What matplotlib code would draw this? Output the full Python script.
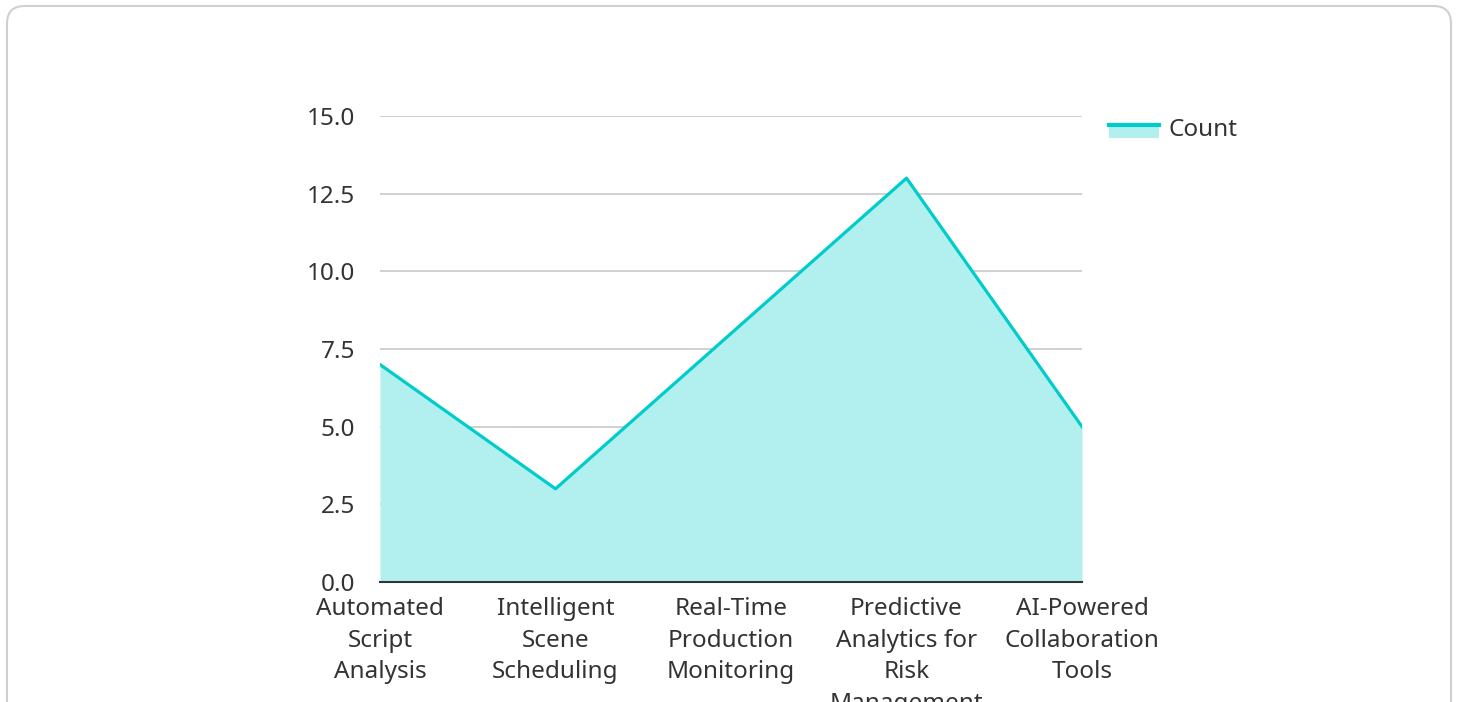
import textwrap

import matplotlib
matplotlib.use("Agg")
import matplotlib.pyplot as plt
from matplotlib.patches import FancyBboxPatch, Rectangle
from matplotlib.lines import Line2D
from matplotlib.legend_handler import HandlerBase

plt.rcParams['font.family'] = ['Noto Sans', 'DejaVu Sans']

# data
categories = [
    "Automated Script Analysis",
    "Intelligent Scene Scheduling",
    "Real-Time Production Monitoring",
    "Predictive Analytics for Risk Management",
    "AI-Powered Collaboration Tools",
]
counts = [7, 3, 8, 13, 5]
y_ticks = [0.0, 2.5, 5.0, 7.5, 10.0, 12.5, 15.0]
series_name = "Count"

LINE = "#00cccc"
FILL = "#b2efef"
TEXT = "#333333"
FS = 17.5


class AreaHandler(HandlerBase):
    """Legend key: filled box with the line on its top edge."""
    def create_artists(self, legend, orig_handle, xdescent, ydescent,
                       width, height, fontsize, trans):
        top = -ydescent + height * 0.62
        bot = -ydescent - height * 0.12
        r = Rectangle((-xdescent, bot), width, top - bot,
                      facecolor=FILL, edgecolor="none", transform=trans)
        l = Line2D([-xdescent, -xdescent + width], [top, top], color=LINE, lw=3,
                   transform=trans)
        return [r, l]


fig = plt.figure(figsize=(14.58, 7.02), dpi=100)

# rounded card border
card = FancyBboxPatch((7 / 1458, -20 / 702), 1444 / 1458, 716 / 702,
                      boxstyle="round,pad=0,rounding_size=0.012",
                      transform=fig.transFigure, facecolor="white",
                      edgecolor="#d0d0d0", linewidth=1.5, zorder=-10,
                      mutation_aspect=1458 / 702)
fig.patches.append(card)

ax = fig.add_axes([380 / 1458, 1 - 582 / 702, 702 / 1458, 466 / 702])
ax.set_facecolor("none")

x = list(range(len(categories)))
ax.fill_between(x, counts, 0, color=FILL, linewidth=0, zorder=2)
ax.plot(x, counts, color=LINE, linewidth=2.3, zorder=3)

ax.set_xlim(0, len(categories) - 1)
ax.set_ylim(0, 15)
ax.set_yticks(y_ticks)
ax.set_yticklabels([f"{v:.1f}" for v in y_ticks])
ax.set_xticks(x)
ax.set_xticklabels([textwrap.fill(c, 14) for c in categories], linespacing=1.44)

ax.grid(axis="y", color="#c8c8c8", linewidth=1.2, zorder=1)
ax.set_axisbelow(True)
for s in ["left", "right", "top"]:
    ax.spines[s].set_visible(False)
ax.spines["bottom"].set_color(TEXT)
ax.spines["bottom"].set_linewidth(1.5)
ax.spines["bottom"].set_zorder(4)

ax.tick_params(axis="y", length=0, pad=18, labelsize=FS, labelcolor=TEXT)
ax.tick_params(axis="x", length=0, pad=10.5, labelsize=FS, labelcolor=TEXT)

handle = Rectangle((0, 0), 1, 1)
fig.legend([handle], [series_name], handler_map={Rectangle: AreaHandler()},
           loc="upper left", bbox_to_anchor=(1087 / 1458, 1 - 96 / 702),
           frameon=False, fontsize=FS, handlelength=2.05, handletextpad=0.4,
           labelcolor=TEXT)

fig.savefig("out.png", dpi=100)
